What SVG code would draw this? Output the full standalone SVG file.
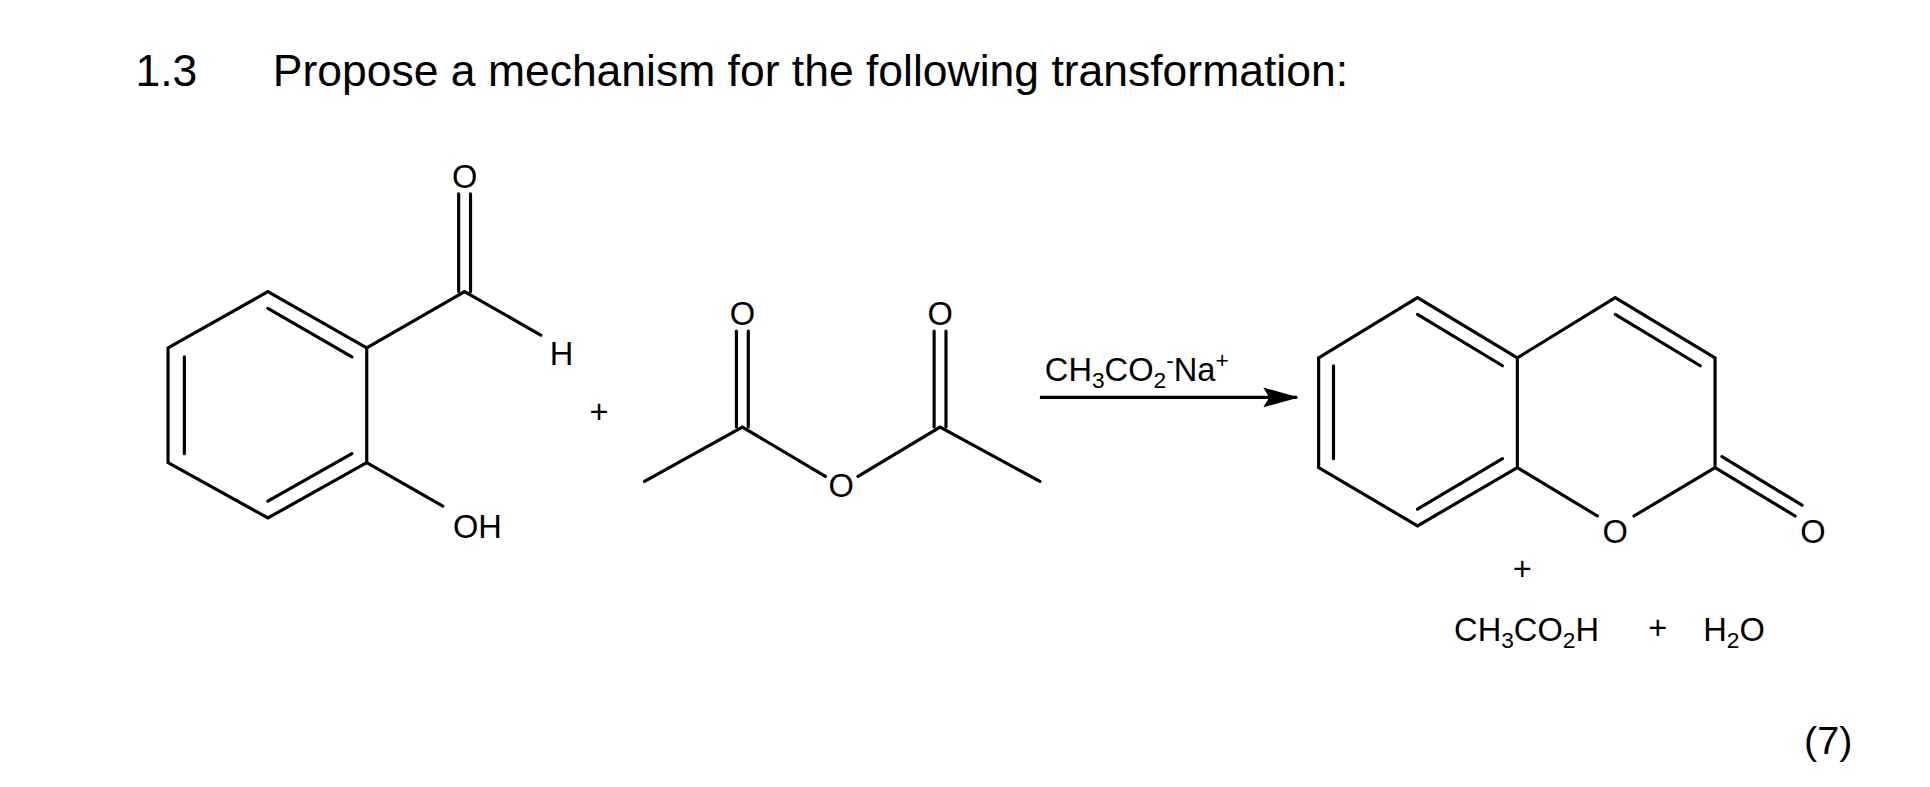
<svg xmlns="http://www.w3.org/2000/svg" width="1930" height="787" viewBox="0 0 1930 787">
<style>
text{font-family:"Liberation Sans",Arial,sans-serif;fill:#000}
.t{font-size:45px}
.a{font-size:33px;text-anchor:middle}
.b line,.b polyline,.b polygon{stroke:#000;stroke-width:3.2;fill:none;stroke-linecap:round}
</style>
<defs><marker id="ah" markerWidth="36" markerHeight="20" refX="34" refY="10" orient="auto" markerUnits="userSpaceOnUse" viewBox="0 0 36 20"><path d="M0,0 L36,10 L0,20 L6,10 Z" fill="#000"/></marker></defs>
<rect width="1930" height="787" fill="#fff"/>
<g transform="scale(0.9885)">
<text class="t" x="137" y="87">1.3</text>
<text class="t" x="276" y="87">Propose a mechanism for the following transformation:</text>
<g id="salicylaldehyde" class="b">
<polygon points="271,295 371,352 371,468 271,524 170,468 170,352"/>
<line x1="186.5" y1="361" x2="186.5" y2="459"/>
<line x1="271" y1="312" x2="356" y2="361"/>
<line x1="356" y1="459" x2="271" y2="507"/>
<line x1="371" y1="352" x2="470" y2="295"/>
<line x1="464" y1="196" x2="464" y2="295"/>
<line x1="476" y1="196" x2="476" y2="295"/>
<line x1="470" y1="295" x2="547" y2="339"/>
<line x1="371" y1="468" x2="448" y2="512"/>
<text class="a" x="470" y="190">O</text>
<text class="a" x="568" y="369">H</text>
<text class="a" x="483" y="544">OH</text>
</g>
<g id="plus1"><text class="a" x="606" y="428">+</text></g>
<g id="anhydride" class="b">
<polyline points="652,487 751,432 835,482"/>
<polyline points="868,482 951,432 1052,487"/>
<line x1="745" y1="335" x2="745" y2="432"/>
<line x1="757" y1="335" x2="757" y2="432"/>
<line x1="945" y1="335" x2="945" y2="432"/>
<line x1="957" y1="335" x2="957" y2="432"/>
<text class="a" x="751" y="329">O</text>
<text class="a" x="951" y="329">O</text>
<text class="a" x="851" y="503">O</text>
</g>
<g id="connectors">
<line x1="1052" y1="402" x2="1312" y2="402" stroke="#000" stroke-width="3.2" marker-end="url(#ah)"/>
</g>
<g id="reagent"><text x="1057" y="385" font-size="33">CH<tspan font-size="23" dy="8">3</tspan><tspan dy="-8">CO</tspan><tspan font-size="23" dy="8">2</tspan><tspan font-size="23" dy="-21">-</tspan><tspan dy="13">Na</tspan><tspan font-size="23" dy="-13">+</tspan></text></g>
<g id="coumarin" class="b">
<polyline points="1535,362 1434,301 1334,362 1334,473 1434,532 1535,473 1535,362 1634,301 1735,362 1735,473"/>
<line x1="1349" y1="370" x2="1349" y2="464"/>
<line x1="1434" y1="318" x2="1520" y2="370"/>
<line x1="1434" y1="515" x2="1520" y2="464"/>
<line x1="1634" y1="318" x2="1720" y2="370"/>
<line x1="1535" y1="473" x2="1616" y2="522"/>
<line x1="1653" y1="522" x2="1735" y2="473"/>
<line x1="1735" y1="473" x2="1816" y2="522"/>
<line x1="1742" y1="462" x2="1823" y2="511"/>
<text class="a" x="1634" y="549">O</text>
<text class="a" x="1834" y="549">O</text>
</g>
<g id="byproducts">
<text class="a" x="1540" y="587">+</text>
<text x="1471" y="648" font-size="33">CH<tspan font-size="23" dy="8">3</tspan><tspan dy="-8">CO</tspan><tspan font-size="23" dy="8">2</tspan><tspan dy="-8">H</tspan></text>
<text class="a" x="1677" y="646">+</text>
<text x="1723" y="648" font-size="33">H<tspan font-size="23" dy="8">2</tspan><tspan dy="-8">O</tspan></text>
</g>
<text x="1874" y="763" text-anchor="end" font-size="40">(7)</text>
</g>
</svg>
